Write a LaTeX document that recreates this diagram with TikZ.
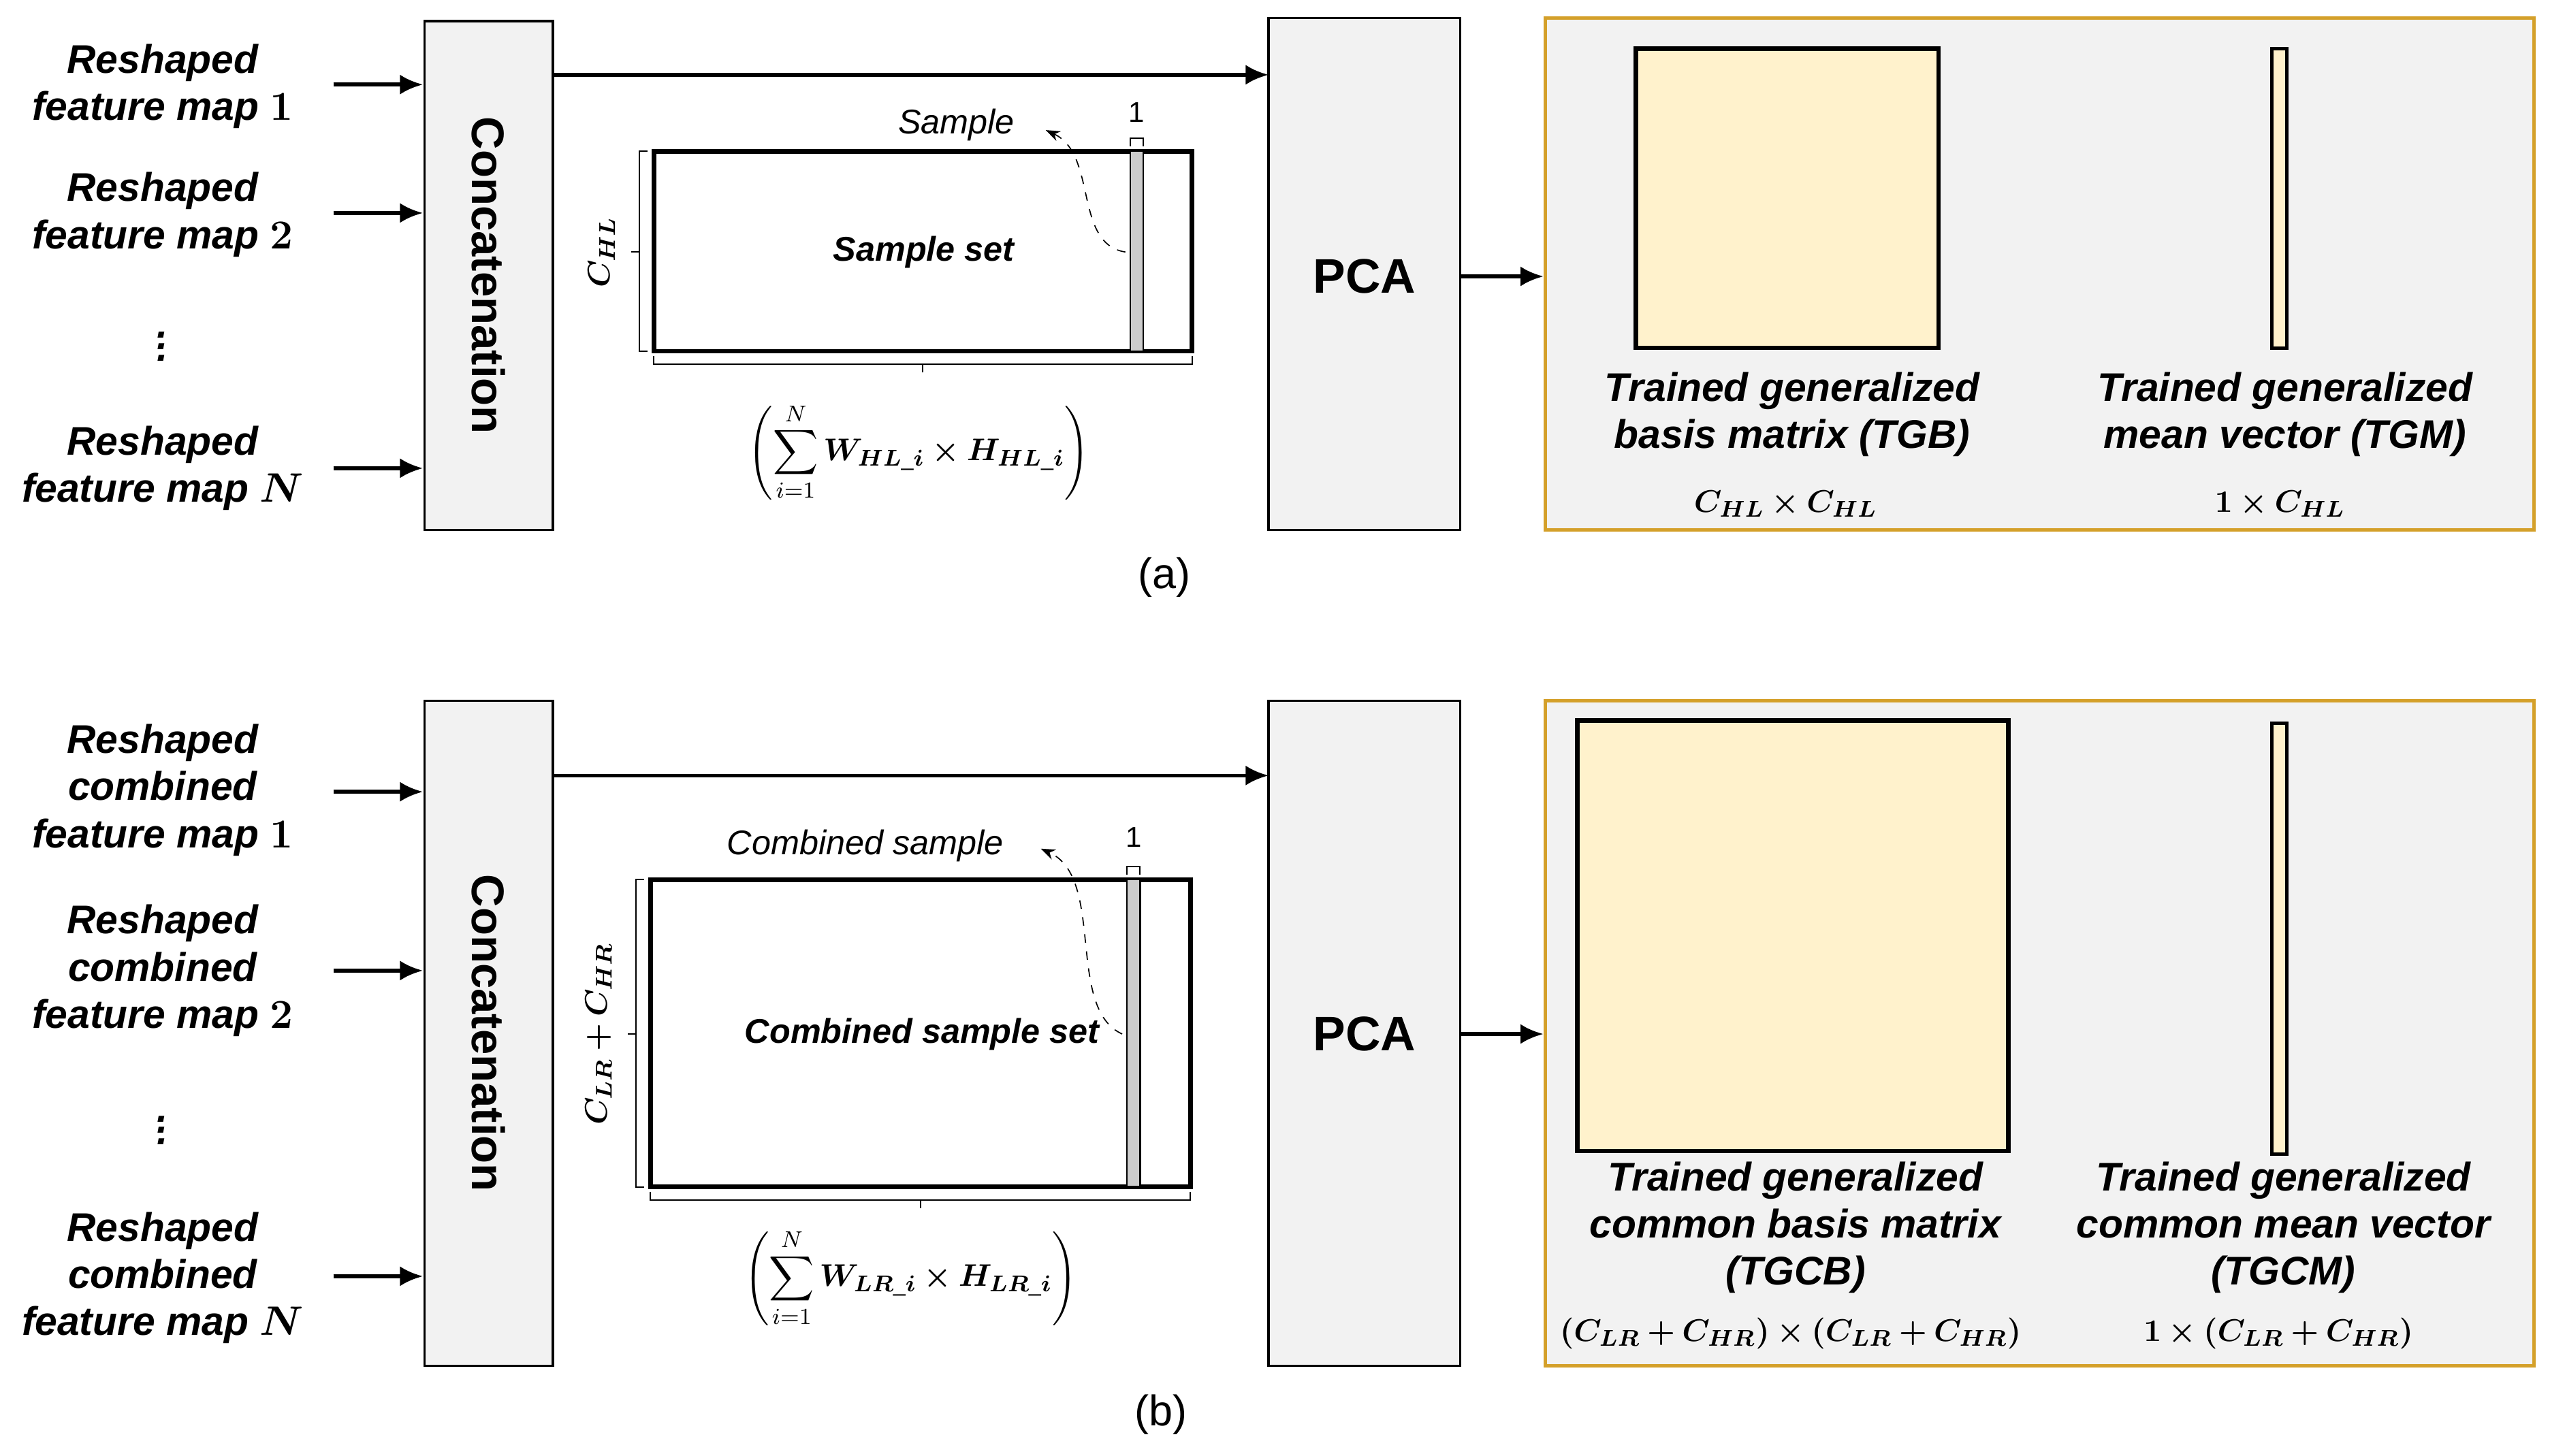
\documentclass[tikz,border=0pt]{standalone}
\usepackage{amsmath,bm}
\usepackage{fontspec}
\setmainfont{Liberation Sans}
\usetikzlibrary{arrows.meta}
\definecolor{frameor}{HTML}{D4A02A}
\definecolor{cream}{HTML}{FFF2CC}
\definecolor{panel}{HTML}{F2F2F2}
\tikzset{
  lbl/.style={font=\fontsize{14}{16.5}\selectfont\bfseries\itshape,align=center,inner sep=1pt},
  blk/.style={draw,fill=panel,line width=0.8pt},
  arr/.style={-{Latex[length=8pt,width=7pt]},line width=1.3pt},
  mat/.style={draw,fill=cream,line width=1.6pt},
  sset/.style={draw,line width=1.6pt},
  col/.style={draw,fill=gray!40,line width=0.6pt},
  brk/.style={line width=0.5pt},
  dim/.style={font=\fontsize{11}{13}\selectfont,inner sep=1pt},
}
\begin{document}
\begin{tikzpicture}[x=0.02cm,y=-0.02cm]
\useasboundingbox (0,0) rectangle (1568,895.5);
% ---------------- (a)
\node[lbl] (la1) at (100,53) {Reshaped\\feature map $\bm{1}$};
\node[lbl] (la2) at (100,132) {Reshaped\\feature map $\bm{2}$};
\node[lbl,inner sep=0pt] at (100,208) {$\vdots$};
\node[lbl] (la3) at (100,288) {Reshaped\\feature map $\bm{N}$};
\node[blk,minimum width=1.58cm,minimum height=6.26cm] (ca) at (300.5,169.5) {};
\node[rotate=-90,font=\fontsize{16}{18}\selectfont\bfseries] at (ca) {Concatenation};
\foreach \y/\n in {52/1,131/2,288/3}{
  \coordinate (sa\n) at (205,\y); \coordinate (ea\n) at (260,\y);
  \draw[arr] (sa\n) -- (ea\n);}
\node[blk,minimum width=2.36cm,minimum height=6.3cm] (pa) at (839,168.5) {};
\node[font=\fontsize{17}{20}\selectfont\bfseries] at (839,170) {PCA};
\coordinate (ta) at (340,46); \coordinate (ua) at (780,46);
\draw[arr] (ta) -- (ua);
\node[draw=frameor,fill=panel,line width=1.2pt,minimum width=12.16cm,minimum height=6.3cm] (fa) at (1254,168.5) {};
\coordinate (pao) at (898,170); \coordinate (fai) at (949,170);
\draw[arr] (pao) -- (fai);
\node[mat,minimum width=3.72cm,minimum height=3.68cm] (tgb) at (1099,122) {};
\node[mat,line width=1.2pt,minimum width=0.18cm,minimum height=3.68cm,inner sep=0pt] (tgm) at (1401.5,122) {};
\node[lbl] at (1102,255) {Trained generalized\\basis matrix (TGB)};
\node[lbl] at (1405,255) {Trained generalized\\mean vector (TGM)};
\node[dim] at (1098,310) {$\bm{C_{HL}\times C_{HL}}$};
\node[dim] at (1402,310) {$\bm{1\times C_{HL}}$};
\node[sset,minimum width=6.62cm,minimum height=2.46cm] (ssa) at (567.5,154.5) {};
\node[col,minimum width=0.16cm,minimum height=2.46cm,inner sep=0pt] (cola) at (699,154.5) {};
\node[lbl,font=\fontsize{12}{14}\selectfont\bfseries\itshape] at (568,155) {Sample set};
\node[font=\fontsize{12}{14}\selectfont\itshape] (smpa) at (588,77) {Sample};
\node[font=\fontsize{10}{12}\selectfont] at (699,69) {1};
\draw[brk] (695,90) -- (695,85) -- (703,85) -- (703,90);
\draw[dashed,-{Stealth[length=5pt]}] (692,155) .. controls (660,150) and (675,95) .. (643,80);
\draw[brk] (398,93) -- (393,93) -- (393,216) -- (398,216) (393,155) -- (388,155);
\node[rotate=90,font=\fontsize{11}{13}\selectfont] at (370,155) {$\bm{C_{HL}}$};
\draw[brk] (402,219) -- (402,224) -- (733,224) -- (733,219) (567.5,224) -- (567.5,229);
\node[dim] at (565,278) {$\displaystyle\left(\sum_{i=1}^{N}\bm{W_{HL\_i}\times H_{HL\_i}}\right)$};
\node[font=\fontsize{15}{18}\selectfont] at (716,355) {(a)};
% ---------------- (b)
\node[lbl] (lb1) at (100,486) {Reshaped\\combined\\feature map $\bm{1}$};
\node[lbl] (lb2) at (100,597) {Reshaped\\combined\\feature map $\bm{2}$};
\node[lbl,inner sep=0pt] at (100,690) {$\vdots$};
\node[lbl] (lb3) at (100,786) {Reshaped\\combined\\feature map $\bm{N}$};
\node[blk,minimum width=1.58cm,minimum height=8.18cm] (cb) at (300.5,635.5) {};
\node[rotate=-90,font=\fontsize{16}{18}\selectfont\bfseries] at (cb) {Concatenation};
\foreach \y/\n in {487/1,597/2,785/3}{
  \coordinate (sb\n) at (205,\y); \coordinate (eb\n) at (260,\y);
  \draw[arr] (sb\n) -- (eb\n);}
\node[blk,minimum width=2.36cm,minimum height=8.18cm] (pb) at (839,635.5) {};
\node[font=\fontsize{17}{20}\selectfont\bfseries] at (839,636) {PCA};
\coordinate (tb) at (340,477); \coordinate (ub) at (780,477);
\draw[arr] (tb) -- (ub);
\node[draw=frameor,fill=panel,line width=1.2pt,minimum width=12.16cm,minimum height=8.18cm] (fb) at (1254,635.5) {};
\coordinate (pbo) at (898,636); \coordinate (fbi) at (949,636);
\draw[arr] (pbo) -- (fbi);
\node[mat,minimum width=5.3cm,minimum height=5.3cm] (tgcb) at (1102.5,575.5) {};
\node[mat,line width=1.2pt,minimum width=0.18cm,minimum height=5.3cm,inner sep=0pt] (tgcm) at (1401.5,577.5) {};
\node[lbl] at (1104,755) {Trained generalized\\common basis matrix\\(TGCB)};
\node[lbl] at (1404,755) {Trained generalized\\common mean vector\\(TGCM)};
\node[dim] at (1101,820) {$\bm{(C_{LR}+C_{HR})\times(C_{LR}+C_{HR})}$};
\node[dim] at (1401,820) {$\bm{1\times(C_{LR}+C_{HR})}$};
\node[sset,minimum width=6.64cm,minimum height=3.78cm] (ssb) at (566,635.5) {};
\node[col,minimum width=0.16cm,minimum height=3.78cm,inner sep=0pt] (colb) at (697,635.5) {};
\node[lbl,font=\fontsize{12}{14}\selectfont\bfseries\itshape] at (567,636) {Combined sample set};
\node[font=\fontsize{12}{14}\selectfont\itshape] (smpb) at (532,520) {Combined sample};
\node[font=\fontsize{10}{12}\selectfont] at (697,515) {1};
\draw[brk] (693,538) -- (693,533) -- (701,533) -- (701,538);
\draw[dashed,-{Stealth[length=5pt]}] (690,636) .. controls (655,620) and (680,540) .. (640,522);
\draw[brk] (396,541) -- (391,541) -- (391,730) -- (396,730) (391,636) -- (386,636);
\node[rotate=90,font=\fontsize{11}{13}\selectfont] at (368,636) {$\bm{C_{LR}+C_{HR}}$};
\draw[brk] (400,733) -- (400,738) -- (732,738) -- (732,733) (566,738) -- (566,743);
\node[dim] at (560,786) {$\displaystyle\left(\sum_{i=1}^{N}\bm{W_{LR\_i}\times H_{LR\_i}}\right)$};
\node[font=\fontsize{15}{18}\selectfont] at (714,870) {(b)};
\end{tikzpicture}
\end{document}
